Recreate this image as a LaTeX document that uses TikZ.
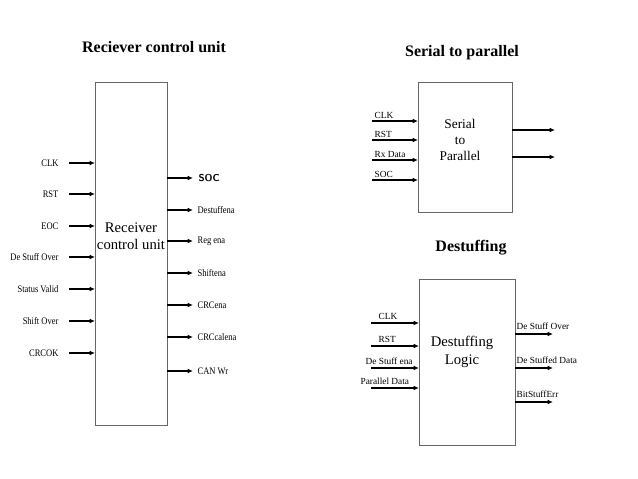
\documentclass[tikz,border=0pt]{standalone}
\usepackage{fontspec}
\setmainfont{Liberation Serif}
\newfontfamily\cond{Liberation Serif}[FakeStretch=0.85]
\usetikzlibrary{arrows.meta}
\begin{document}
\begin{tikzpicture}[x=0.75pt,y=-0.75pt,
  box/.style={draw=black!60,line width=0.6pt},
  ar/.style={-{Latex[length=4pt,width=3.5pt]},line width=1pt},
  lab/.style={font=\fontsize{7}{8}\selectfont,inner sep=1pt},
  rlab/.style={font=\cond\fontsize{7.5}{8}\selectfont,inner sep=1pt},
  ttl/.style={font=\bfseries\fontsize{12}{14}\selectfont}]
\useasboundingbox (0,0) rectangle (638,478);
\node[ttl] (t1) at (154,47) {Reciever control unit};
\node[ttl] (t2) at (462,53) {Serial to parallel};
\node[ttl] (t3) at (471,248) {Destuffing};
% receiver
\draw[box] (95,82) rectangle (167,425);
\node[align=center,font=\fontsize{11}{13}\selectfont] (rc) at (131,236) {Receiver\\control unit};
\foreach \y/\t [count=\i] in {163/CLK,194/RST,226/EOC,257/De Stuff Over,289/Status Valid,321/Shift Over,353/CRCOK}{
  \coordinate (ri\i) at (69,\y); \coordinate (re\i) at (95,\y);
  \draw[ar] (ri\i) -- (re\i);
  \node[rlab,anchor=east] (rl\i) at (60,\y) {\t};}
\foreach \y/\t [count=\i] in {210/Destuffena,241/Reg ena,273/Shiftena,305/CRCena,337/CRCcalena,371/CAN Wr}{
  \coordinate (ro\i) at (167,\y); \coordinate (rp\i) at (193,\y);
  \draw[ar] (ro\i) -- (rp\i);
  \node[rlab,anchor=west] (rq\i) at (196,\y) {\t};}
\coordinate (ro0) at (167,178); \coordinate (rp0) at (193,178);
\draw[ar] (ro0) -- (rp0);
\node[rlab,anchor=west,font=\sffamily\bfseries\fontsize{7.5}{8}\selectfont] (rq0) at (197,178) {SOC};
% serial
\draw[box] (418,82) rectangle (512,212);
\node[align=center,font=\fontsize{10}{12}\selectfont] (sp) at (460,140) {Serial\\to\\Parallel};
\foreach \y/\t [count=\i] in {121/CLK,140/RST,160/Rx Data,180/SOC}{
  \coordinate (si\i) at (372,\y); \coordinate (se\i) at (418,\y);
  \draw[ar] (si\i) -- (se\i);
  \node[lab,anchor=south west] (sl\i) at (373,\y-1) {\t};}
\foreach \y [count=\i] in {130,157}{
  \coordinate (so\i) at (512,\y); \coordinate (sq\i) at (555,\y);
  \draw[ar] (so\i) -- (sq\i);}
% destuffing
\draw[box] (419,279) rectangle (515,445);
\node[align=center,font=\fontsize{11}{13}\selectfont] (dl) at (462,352) {Destuffing\\Logic};
\foreach \y/\t [count=\i] in {323/CLK,346/RST,368/De Stuff ena,388/Parallel Data}{
  \coordinate (di\i) at (371,\y); \coordinate (de\i) at (419,\y);
  \draw[ar] (di\i) -- (de\i);}
\node[lab,anchor=south west] (dl1) at (377,321) {CLK};
\node[lab,anchor=south west] (dl2) at (377,344) {RST};
\node[lab,anchor=south west] (dl3) at (364,366) {De Stuff ena};
\node[lab,anchor=south west] (dl4) at (359,386) {Parallel Data};
\foreach \y/\t [count=\i] in {334/De Stuff Over,368/De Stuffed Data,402/BitStuffErr}{
  \coordinate (do\i) at (515,\y); \coordinate (dq\i) at (553,\y);
  \draw[ar] (do\i) -- (dq\i);
  \node[lab,anchor=south west] (dr\i) at (515,\y-3) {\t};}
\end{tikzpicture}
\end{document}
